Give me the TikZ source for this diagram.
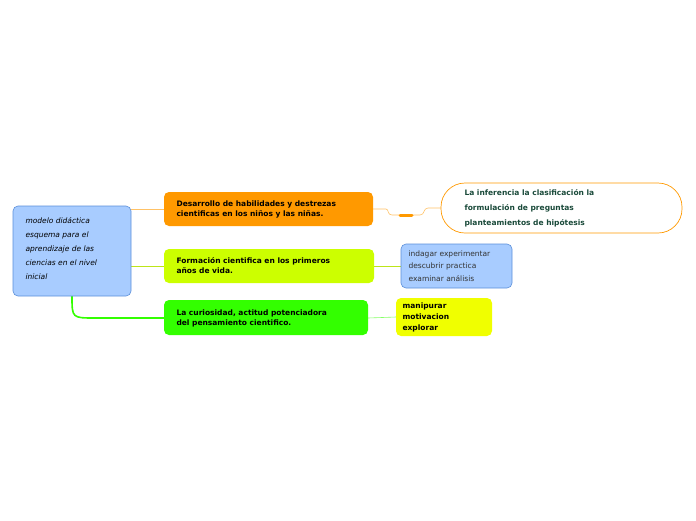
\documentclass[tikz,border=0pt]{standalone}
\usepackage{fontspec}
\setmainfont{DejaVu Sans}
\begin{document}
\begin{tikzpicture}[x=1pt,y=-1pt,
 box/.style={rounded corners=5pt,draw=#1!60!white,fill=#1,anchor=north west,inner sep=0pt,line width=0.6pt},
 txt/.style={anchor=west,align=left,font=\fontsize{7.5}{10}\selectfont\bfseries}]
\useasboundingbox (0,0) rectangle (696,520);
\definecolor{rootc}{HTML}{A8CCFF}\definecolor{rootb}{HTML}{5B8FD9}
\definecolor{orc}{HTML}{FF9900}\definecolor{lmc}{HTML}{CCFF00}
\definecolor{grc}{HTML}{33FF00}\definecolor{yec}{HTML}{F0FF00}
\definecolor{dtxt}{HTML}{1A4A3A}
% connectors
\coordinate (r1) at (131,209);\coordinate (r2) at (131,266);
\draw[orc!60!white,line width=0.6pt] (r1) -- (164,209);
\draw[lmc!80!gray,line width=0.6pt] (r2) -- (164,266);
\draw[grc,line width=1.6pt] (72,296) .. controls (72,318) .. (95,318) -- (164,318);
\draw[orc!60!white,line width=0.6pt] (373,209) -- (386,209) .. controls (389,209) and (387,215) .. (392,215) -- (420,215) .. controls (425,215) and (423,208) .. (428,208) -- (441,208);
\draw[orc,line width=3pt,line cap=round] (400,215) -- (412,215);
\draw[lmc!80!gray,line width=0.6pt] (374,266) -- (401,266);
\draw[grc!60!white,line width=0.6pt] (368,318) -- (396,317);
% nodes
\fill[rootc,draw=rootb,rounded corners=5pt,line width=0.6pt] (13,206) rectangle (131,296);
\node[anchor=north west,align=left,font=\fontsize{7.5}{14}\selectfont\itshape] (root) at (22,214) {modelo didáctica\\esquema para el\\aprendizaje de las\\ciencias en el nivel\\inicial};
\fill[orc,rounded corners=5pt] (164,192) rectangle (373,226);
\node[txt] (a) at (173,209) {Desarrollo de habilidades y destrezas\\cientificas en los niños y las niñas.};
\fill[lmc,rounded corners=5pt] (164,249) rectangle (374,283);
\node[txt] (b) at (173,266) {Formación cientifica en los primeros\\años de vida.};
\fill[grc,rounded corners=5pt] (164,300) rectangle (368,335);
\node[txt] (c) at (173,318) {La curiosidad, actitud potenciadora\\del pensamiento cientifico.};
\draw[orc,fill=white,rounded corners=24pt,line width=0.7pt] (441,183) rectangle (682,233);
\node[txt,text=dtxt,font=\fontsize{7.5}{15}\selectfont\bfseries] (d) at (461,208) {La inferencia la clasificación la\\formulación de preguntas\\planteamientos de hipótesis};
\fill[rootc,draw=rootb,rounded corners=5pt,line width=0.6pt] (401,244) rectangle (512,288);
\node[anchor=west,align=left,font=\fontsize{7.5}{12.5}\selectfont,text=black!80] (e) at (405,266) {indagar experimentar\\descubrir practica\\examinar análisis};
\fill[yec,rounded corners=5pt] (396,298) rectangle (492,336);
\node[txt,font=\fontsize{7.5}{11}\selectfont\bfseries] (f) at (399,317) {manipurar\\motivacion\\explorar};
\end{tikzpicture}
\end{document}
